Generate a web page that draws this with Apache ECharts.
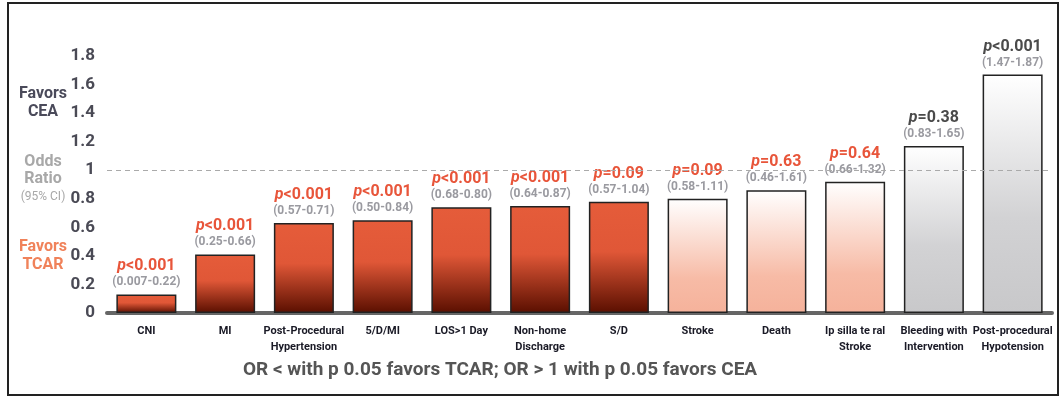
<!DOCTYPE html>
<html>
<head>
<meta charset="utf-8">
<script src="https://cdn.jsdelivr.net/npm/echarts@6/dist/echarts.min.js"></script>
<style>
  html, body { margin: 0; padding: 0; background: #fff; }
  #chart { width: 1064px; height: 402px; }
</style>
</head>
<body>
<div id="chart"></div>
<script>
// 数据
var categories = ['CNI', 'MI', 'Post-Procedural\nHypertension', '5/D/MI', 'LOS>1 Day',
  'Non-home\nDischarge', 'S/D', 'Stroke', 'Death', 'Ip silla te ral\nStroke',
  'Bleeding with\nIntervention', 'Post-procedural\nHypotension'];
var oddsValues = [0.13, 0.41, 0.63, 0.65, 0.74, 0.75, 0.78, 0.80, 0.86, 0.92, 1.17, 1.67];
var pLabels = ['<0.001', '<0.001', '<0.001', '<0.001', '<0.001', '<0.001', '=0.09', '=0.09', '=0.63', '=0.64', '=0.38', '<0.001'];
var ciLabels = ['(0.007-0.22)', '(0.25-0.66)', '(0.57-0.71)', '(0.50-0.84)', '(0.68-0.80)', '(0.64-0.87)',
  '(0.57-1.04)', '(0.58-1.11)', '(0.46-1.61)', '(0.66-1.32)', '(0.83-1.65)', '(1.47-1.87)'];
// 0 = 深橙, 1 = 浅橙, 2 = 灰
var barGroup = [0, 0, 0, 0, 0, 0, 0, 1, 1, 1, 2, 2];

var FONT = 'Roboto, sans-serif';

var fills = [
  { type: 'linear', x: 0, y: 0, x2: 0, y2: 1, colorStops: [
    { offset: 0, color: '#e55c3a' }, { offset: 0.45, color: '#e05737' }, { offset: 1, color: '#5a0f00' }] },
  { type: 'linear', x: 0, y: 0, x2: 0, y2: 1, colorStops: [
    { offset: 0, color: '#ffffff' }, { offset: 0.7, color: '#f7bba6' }, { offset: 1, color: '#f5b29b' }] },
  { type: 'linear', x: 0, y: 0, x2: 0, y2: 1, colorStops: [
    { offset: 0, color: '#ffffff' }, { offset: 0.6, color: '#d2d2d4' }, { offset: 1, color: '#c8c8ca' }] }
];
var pColors = ['#e8553a', '#e8553a', '#4a4a4a'];

var barData = oddsValues.map(function (v, i) {
  return {
    value: v,
    itemStyle: { color: fills[barGroup[i]], borderColor: '#222', borderWidth: 1.5 },
    label: {
      formatter: '{p|p}{v|' + pLabels[i] + '}\n{ci|' + ciLabels[i] + '}',
      rich: {
        p: { fontFamily: FONT, fontStyle: 'italic', fontWeight: 'bold', fontSize: 16, color: pColors[barGroup[i]], lineHeight: 18 },
        v: { fontFamily: FONT, fontWeight: 'bold', fontSize: 16, color: pColors[barGroup[i]], lineHeight: 18 },
        ci: { fontFamily: FONT, fontWeight: 'bold', fontSize: 12, color: '#9a9aa0', lineHeight: 14 }
      }
    }
  };
});

var myChart = echarts.init(document.getElementById('chart'));
var option = {
  animation: false,
  grid: { left: 107, right: 12, top: 56, bottom: 89 },
  xAxis: {
    type: 'category',
    data: categories,
    axisLine: { lineStyle: { color: '#666', width: 4 } },
    axisTick: { show: false },
    axisLabel: {
      interval: 0, margin: 10, fontFamily: FONT, fontWeight: 'bold',
      fontSize: 11, color: '#1a1a26', lineHeight: 16
    }
  },
  yAxis: {
    type: 'value',
    min: 0, max: 1.8, interval: 0.2,
    splitLine: { show: false },
    axisLine: { show: false },
    axisTick: { show: false },
    axisLabel: { margin: 12, fontFamily: FONT, fontWeight: 'bold', fontSize: 17, color: '#4a4a55' }
  },
  series: [{
    type: 'bar',
    barWidth: 60,
    data: barData,
    label: { show: true, position: 'top', distance: 5, align: 'center' },
    markLine: {
      silent: true, symbol: 'none',
      label: { show: false },
      lineStyle: { color: '#aaa', type: [5, 4], width: 1 },
      data: [{ yAxis: 1 }]
    }
  }],
  graphic: [
    { type: 'rect', shape: { x: 8, y: 3, width: 1050, height: 392 }, style: { fill: 'none', stroke: '#222', lineWidth: 2 }, silent: true },
    { type: 'text', x: 43, y: 103, style: { text: 'Favors\nCEA', fontFamily: FONT, fontWeight: 'bold', fontSize: 16, lineHeight: 18, fill: '#4a4a5a', align: 'center', verticalAlign: 'middle' } },
    { type: 'text', x: 43, y: 170, style: { text: 'Odds\nRatio', fontFamily: FONT, fontWeight: 'bold', fontSize: 16, lineHeight: 17, fill: '#a8a8a8', align: 'center', verticalAlign: 'middle' } },
    { type: 'text', x: 43, y: 197, style: { text: '(95% CI)', fontFamily: FONT, fontSize: 12, fill: '#a8a8a8', align: 'center', verticalAlign: 'middle' } },
    { type: 'text', x: 43, y: 256, style: { text: 'Favors\nTCAR', fontFamily: FONT, fontWeight: 'bold', fontSize: 16, lineHeight: 18, fill: '#f0825a', align: 'center', verticalAlign: 'middle' } },
    { type: 'text', x: 500, y: 370, style: { text: 'OR < with p 0.05 favors TCAR; OR > 1 with p 0.05 favors CEA', fontFamily: FONT, fontWeight: 'bold', fontSize: 19, fill: '#555', align: 'center', verticalAlign: 'middle' } }
  ]
};
myChart.setOption(option);
</script>
</body>
</html>
